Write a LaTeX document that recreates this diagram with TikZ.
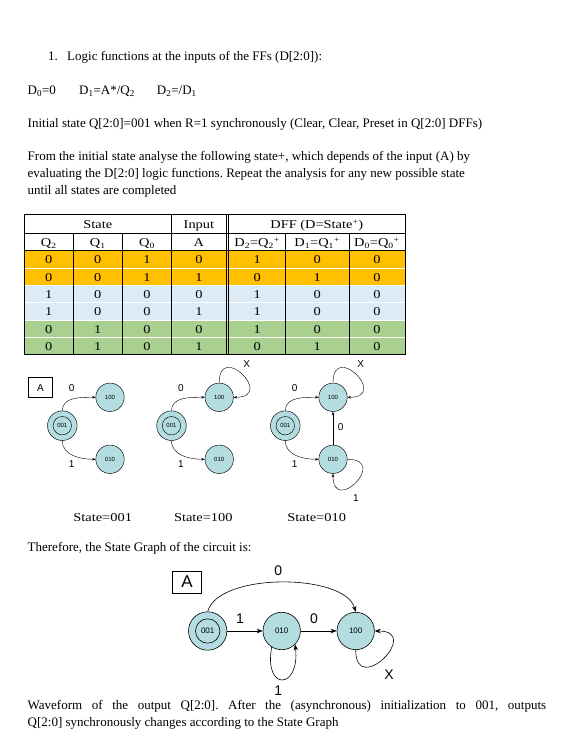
\documentclass[tikz,border=0pt]{standalone}
\usepackage{fontspec}
\setmainfont{Liberation Serif}
\setsansfont{Liberation Sans}
\newfontfamily\tabfont[FakeStretch=1.2]{Liberation Serif}
\usetikzlibrary{arrows.meta}
\frenchspacing

\definecolor{rowor}{HTML}{FFC000}
\definecolor{rowbl}{HTML}{DDEBF7}
\definecolor{rowgr}{HTML}{A9D08E}
\definecolor{stfill}{HTML}{B4DDE1}

\begin{document}
\begin{tikzpicture}[x=1pt,y=1pt,
  every node/.append style={inner sep=0pt},
  txt/.style={anchor=base west,font=\fontsize{13}{17}\selectfont},
  cell/.style={anchor=base,font=\tabfont\fontsize{12}{14}\selectfont},
  lbl/.style={font=\sffamily\fontsize{10}{10}\selectfont},
  biglbl/.style={font=\sffamily\fontsize{14}{14}\selectfont},
  st/.style={circle,draw,fill=stfill,minimum size=28.4pt,line width=0.45pt,font=\sffamily\fontsize{6}{6}\selectfont},
  stin/.style={circle,draw,minimum size=18.4pt,line width=0.45pt,font=\sffamily\fontsize{6}{6}\selectfont},
  bigst/.style={circle,draw,fill=stfill,minimum size=37.4pt,line width=0.6pt,font=\sffamily\fontsize{8}{8}\selectfont},
  bigin/.style={circle,draw,minimum size=24.4pt,line width=0.6pt,font=\sffamily\fontsize{8}{8}\selectfont},
  inbox/.style={draw,line width=0.6pt,minimum width=24pt,minimum height=20pt,font=\sffamily\fontsize{10}{10}\selectfont},
  sarr/.style={-{Stealth[length=3.5pt,width=2.6pt]},line width=0.4pt},
  barr/.style={-{Stealth[length=6pt,width=4.5pt]},line width=0.6pt}
]
\useasboundingbox (0,0) rectangle (576,746);

% text above the table
\node[txt] (num) at (48,685) {1.};
\node[txt] (ttl) at (67,685) {Logic functions at the inputs of the FFs (D[2:0]):};
\node[txt] (fd0) at (27.5,651) {D\textsubscript{0}=0};
\node[txt] (fd1) at (79,651) {D\textsubscript{1}=A*/Q\textsubscript{2}};
\node[txt] (fd2) at (156.7,651) {D\textsubscript{2}=/D\textsubscript{1}};
\node[txt] (ini) at (27.5,618.7) {Initial state Q[2:0]=001 when R=1 synchronously (Clear, Clear, Preset in Q[2:0] DFFs)};
\node[txt] (fr1) at (27.5,585.3) {From the initial state analyse the following state+, which depends of the input (A) by};
\node[txt] (fr2) at (27.5,568.3) {evaluating the D[2:0] logic functions. Repeat the analysis for any new possible state};
\node[txt] (fr3) at (27.5,551.7) {until all states are completed};

% table
\foreach \c [count=\i] in {rowor,rowor,rowbl,rowbl,rowgr,rowgr}
  \fill[\c] (24,{495.3-17.3*(\i-1)}) rectangle (405,{495.3-17.3*\i});
\foreach \i in {1,...,5}
  \draw[white,line width=0.6pt] (24,{495.3-17.3*\i}) -- (405,{495.3-17.3*\i});
\draw[line width=0.8pt] (24,531.7) rectangle (405,391.5);
\draw[line width=0.5pt] (24,513) -- (405,513) (24,495.3) -- (405,495.3);
\draw[line width=0.5pt] (73.3,513) -- (73.3,391.5) (122.3,513) -- (122.3,391.5)
  (285.5,513) -- (285.5,391.5) (348.8,513) -- (348.8,391.5);
\draw[line width=1.2pt] (171.7,531.7) -- (171.7,391.5);
\draw[line width=0.5pt] (226,531.7) -- (226,391.5) (228.7,531.7) -- (228.7,391.5);
\node[cell] (hst) at (97.8,517) {State};
\node[cell] (hin) at (198.9,517) {Input};
\node[cell] (hdf) at (316.8,517) {DFF (D=State\textsuperscript{+})};
\node[cell] (hq2) at (48.7,499.5) {Q\textsubscript{2}};
\node[cell] (hq1) at (97.8,499.5) {Q\textsubscript{1}};
\node[cell] (hq0) at (147,499.5) {Q\textsubscript{0}};
\node[cell] (ha) at (198.9,499.5) {A};
\node[cell] (hd2) at (257.1,499.5) {D\textsubscript{2}=Q\textsubscript{2}\textsuperscript{+}};
\node[cell] (hd1) at (317.2,499.5) {D\textsubscript{1}=Q\textsubscript{1}\textsuperscript{+}};
\node[cell] (hd0) at (376.9,499.5) {D\textsubscript{0}=Q\textsubscript{0}\textsuperscript{+}};
\foreach \row [count=\i] in {{0,0,1,0,1,0,0},{0,0,1,1,0,1,0},{1,0,0,0,1,0,0},
    {1,0,0,1,1,0,0},{0,1,0,0,1,0,0},{0,1,0,1,0,1,0}}
  \foreach \v [count=\j] in \row {
    \pgfmathsetmacro\cx{{48.7,97.8,147,198.9,257.1,317.2,376.9}[\j-1]}
    \node[cell] (v\i\j) at (\cx,{482.15-17.3*(\i-1)}) {\v};
  }

% small state graphs, one per analysed state
\foreach \dx [count=\k] in {0,109.2,223} {
  \begin{scope}[xshift=\dx pt]
    \node[st,minimum size=29.6pt] (a\k) at (62.3,320.3) {};
    \node[stin] (ai\k) at (a\k) {001};
    \node[st] (h\k) at (110,348.7) {100};
    \node[st] (t\k) at (110,286.7) {010};
    \draw[sarr] (a\k.north) to[out=90,in=180] (h\k.west);
    \draw[sarr] (a\k.south) to[out=-90,in=180] (t\k.west);
    \node[lbl] (z\k) at (71.7,357.7) {0};
    \node[lbl] (o\k) at (71.7,281.7) {1};
  \end{scope}
}
\node[inbox] (in1) at (40.5,358.3) {A};
\draw[sarr] (h2.north) .. controls +(0,42) and +(42,0) .. (h2.east);
\node[lbl] (x2) at (246.7,381.7) {X};
\draw[sarr] (h3.north) .. controls +(0,42) and +(42,0) .. (h3.east);
\node[lbl] (x3) at (360.7,381.7) {X};
\draw[sarr] (t3.north) -- (h3.south);
\node[lbl] (z3b) at (340.7,319.3) {0};
\draw[sarr] (t3.east) .. controls +(42,0) and +(0,-42) .. (t3.south);
\node[lbl] (o3b) at (356,248.3) {1};
\node[cell] (cp1) at (102.7,224.3) {State=001};
\node[cell] (cp2) at (203.3,224.3) {State=100};
\node[cell] (cp3) at (316.7,224.3) {State=010};

\node[txt] (thf) at (27.5,194) {Therefore, the State Graph of the circuit is:};

% full state graph
\node[inbox,minimum width=29pt,minimum height=22pt,font=\sffamily\fontsize{17}{17}\selectfont] (in4) at (187,164) {A};
\node[bigst,minimum size=38.4pt] (ga) at (207.7,115) {};
\node[bigin] (gai) at (ga) {001};
\node[bigst] (gt) at (281.7,115) {010};
\node[bigst] (gh) at (355.7,115) {100};
\draw[barr] (ga) -- (gt);
\node[biglbl] (g1) at (240,127.7) {1};
\draw[barr] (gt) -- (gh);
\node[biglbl] (g0) at (314,127.7) {0};
\draw[barr] (ga.north) to[out=75,in=105,looseness=0.7] (gh.north);
\node[biglbl] (g0t) at (278.3,175.3) {0};
\draw[barr] (gt.-122) .. controls +(-8,-45) and +(5,-45) .. (gt.-45);
\node[biglbl] (g1b) at (278.3,55) {1};
\draw[barr] (gh.south) .. controls +(0,-48) and +(48,0) .. (gh.east);
\node[biglbl] (gx) at (389,71.7) {X};

% text below
\node[txt] (wf1) at (27.5,36) {\makebox[518.5pt][s]{Waveform of the output Q[2:0]. After the (asynchronous) initialization to 001, outputs}};
\node[txt] (wf2) at (27.5,19.5) {Q[2:0] synchronously changes according to the State Graph};
\end{tikzpicture}
\end{document}
